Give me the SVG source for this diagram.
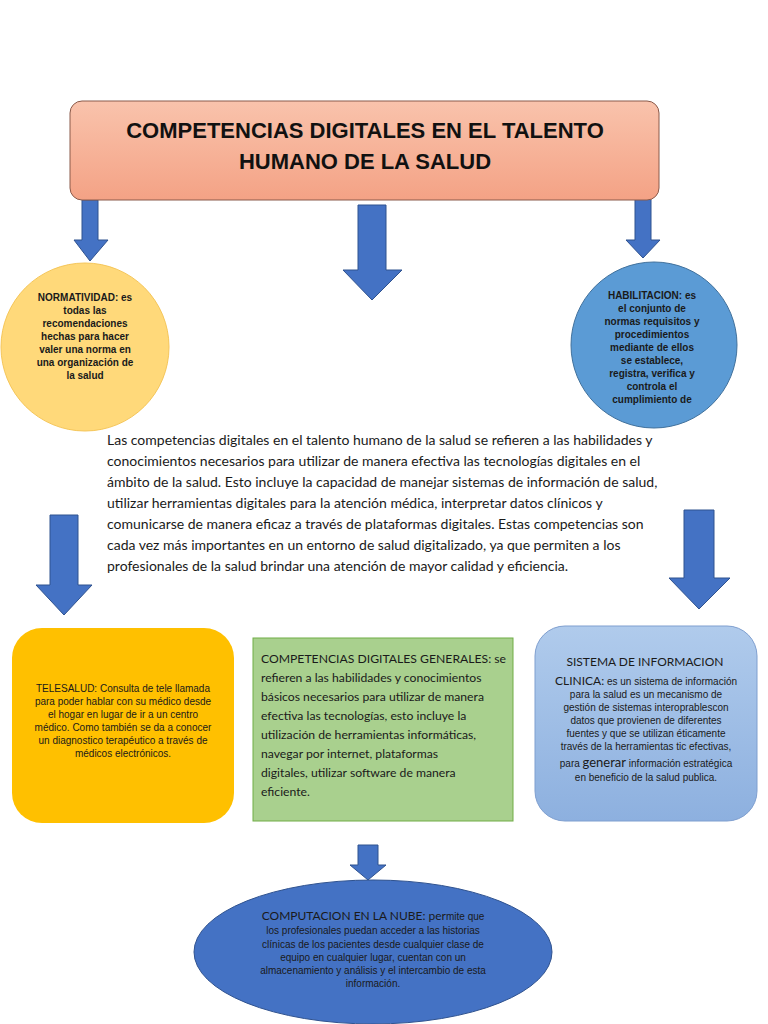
<svg xmlns="http://www.w3.org/2000/svg" width="768" height="1024" viewBox="0 0 768 1024">
<style>
.arr{fill:#4472C4;stroke:#2F528F;stroke-width:1}
.s{font-family:"Liberation Sans",Arial,sans-serif;font-size:10px;fill:#1a1a1a;text-anchor:middle}
.b{font-weight:bold}
.c{font-family:Lato,"Open Sans",sans-serif;fill:#1a1a1a}
</style>
<defs>
<linearGradient id="gt" x1="0" y1="0" x2="0" y2="1"><stop offset="0" stop-color="#f9c3ac"/><stop offset="1" stop-color="#f4a285"/></linearGradient>
<linearGradient id="gb" x1="0" y1="0" x2="0" y2="1"><stop offset="0" stop-color="#b0cbec"/><stop offset="1" stop-color="#8db0df"/></linearGradient>
</defs>
<rect width="768" height="1024" fill="#fff"/>
<g id="connectors">
<polygon class="arr" points="82,200 98,200 98,240 108,240 90,261 74,240 82,240"/>
<polygon class="arr" points="358,205 386,205 386,270 402,270 372,300 343,270 358,270"/>
<polygon class="arr" points="635,198 651,198 651,240 660,240 643,258 626,240 635,240"/>
<polygon class="arr" points="50,515 78,515 78,585 92,585 64,615 36,585 50,585"/>
<polygon class="arr" points="684,510 714,510 714,578 730,578 699,609 669,578 684,578"/>
<polygon class="arr" points="358,845 378,845 378,865 386,865 368,880 350,865 358,865"/>
</g>
<g id="title">
<rect x="70" y="101" width="589" height="99" rx="12" fill="url(#gt)" stroke="#8a5a4a" stroke-width="1"/>
<text x="365" y="138" text-anchor="middle" font-family="Liberation Sans,Arial,sans-serif" font-weight="bold" font-size="22" fill="#111">COMPETENCIAS DIGITALES EN EL TALENTO</text>
<text x="365" y="169" text-anchor="middle" font-family="Liberation Sans,Arial,sans-serif" font-weight="bold" font-size="22" fill="#111">HUMANO DE LA SALUD</text>
</g>
<g id="normatividad">
<circle cx="85" cy="347" r="84" fill="#ffd97a" stroke="#f5c65a"/>
<text class="s b"><tspan x="85" y="301">NORMATIVIDAD: es</tspan><tspan x="85" y="314">todas las</tspan><tspan x="85" y="327">recomendaciones</tspan><tspan x="85" y="340">hechas para hacer</tspan><tspan x="85" y="353">valer una norma en</tspan><tspan x="85" y="366">una organización de</tspan><tspan x="85" y="379">la salud</tspan></text>
</g>
<g id="habilitacion">
<circle cx="654" cy="345" r="83" fill="#5b9bd5" stroke="#41719c"/>
<text class="s b"><tspan x="652" y="299">HABILITACION: es</tspan><tspan x="652" y="312">el conjunto de</tspan><tspan x="652" y="325">normas requisitos y</tspan><tspan x="652" y="338">procedimientos</tspan><tspan x="652" y="351">mediante de ellos</tspan><tspan x="652" y="364">se establece,</tspan><tspan x="652" y="377">registra, verifica y</tspan><tspan x="652" y="390">controla el</tspan><tspan x="652" y="403">cumplimiento  de</tspan></text>
</g>
<g id="parrafo">
<text class="c" font-size="14"><tspan x="107" y="445">Las competencias digitales en el talento humano de la salud se refieren a las habilidades y</tspan><tspan x="107" y="466">conocimientos necesarios para utilizar de manera efectiva las tecnologías digitales en el</tspan><tspan x="107" y="487">ámbito de la salud. Esto incluye la capacidad de manejar sistemas de información de salud,</tspan><tspan x="107" y="508">utilizar herramientas digitales para la atención médica, interpretar datos clínicos y</tspan><tspan x="107" y="529">comunicarse de manera eficaz a través de plataformas digitales. Estas competencias son</tspan><tspan x="107" y="550">cada vez más importantes en un entorno de salud digitalizado, ya que permiten a los</tspan><tspan x="107" y="571">profesionales de la salud brindar una atención de mayor calidad y eficiencia.</tspan></text>
</g>
<g id="telesalud">
<rect x="12" y="628" width="222" height="195" rx="30" fill="#ffc000"/>
<text class="s"><tspan x="123" y="692">TELESALUD: Consulta de tele llamada</tspan><tspan x="123" y="705">para poder hablar con su médico desde</tspan><tspan x="123" y="718">el hogar en lugar de ir a un centro</tspan><tspan x="123" y="731">médico. Como también se da a conocer</tspan><tspan x="123" y="744">un diagnostico terapéutico a través de</tspan><tspan x="123" y="757">médicos electrónicos.</tspan></text>
</g>
<g id="generales">
<rect x="253" y="638" width="260" height="183" fill="#a9d08e" stroke="#70ad47"/>
<text class="c" font-size="12.2"><tspan x="261" y="663">COMPETENCIAS DIGITALES GENERALES: se</tspan><tspan x="261" y="682">refieren a las habilidades y conocimientos</tspan><tspan x="261" y="701">básicos necesarios para utilizar de manera</tspan><tspan x="261" y="720">efectiva las tecnologías, esto incluye la</tspan><tspan x="261" y="739">utilización de herramientas informáticas,</tspan><tspan x="261" y="758">navegar por internet, plataformas</tspan><tspan x="261" y="777">digitales, utilizar software de manera</tspan><tspan x="261" y="796">eficiente.</tspan></text>
</g>
<g id="sistema">
<rect x="535" y="626" width="222" height="195" rx="30" fill="url(#gb)" stroke="#7f9fcf"/>
<text class="c" font-size="12" text-anchor="middle" x="645" y="666">SISTEMA DE INFORMACION</text>
<text class="s"><tspan x="646" y="685"><tspan font-family="Lato,sans-serif" font-size="12">CLINICA:</tspan> es un sistema de información</tspan><tspan x="646" y="698">para la salud es un mecanismo de</tspan><tspan x="646" y="711">gestión de sistemas interoprablescon</tspan><tspan x="646" y="724">datos que provienen de diferentes</tspan><tspan x="646" y="737">fuentes y que se utilizan éticamente</tspan><tspan x="646" y="750">través de la herramientas tic efectivas,</tspan><tspan x="646" y="767">para <tspan font-family="Lato,sans-serif" font-size="13">generar</tspan> información estratégica</tspan><tspan x="646" y="781">en beneficio de la salud publica.</tspan></text>
</g>
<g id="nube">
<ellipse cx="373" cy="952" rx="179" ry="72" fill="#4472C4" stroke="#2F528F"/>
<text class="s"><tspan x="373" y="920"><tspan font-family="Lato,sans-serif" font-size="12">COMPUTACION EN LA NUBE: per</tspan>mite que</tspan><tspan x="373" y="934">los profesionales puedan acceder a las historias</tspan><tspan x="373" y="948">clínicas de los pacientes desde cualquier clase de</tspan><tspan x="373" y="961">equipo en cualquier lugar, cuentan con un</tspan><tspan x="373" y="974">almacenamiento  y análisis y el intercambio de esta</tspan><tspan x="373" y="987">información.</tspan></text>
</g>
</svg>
